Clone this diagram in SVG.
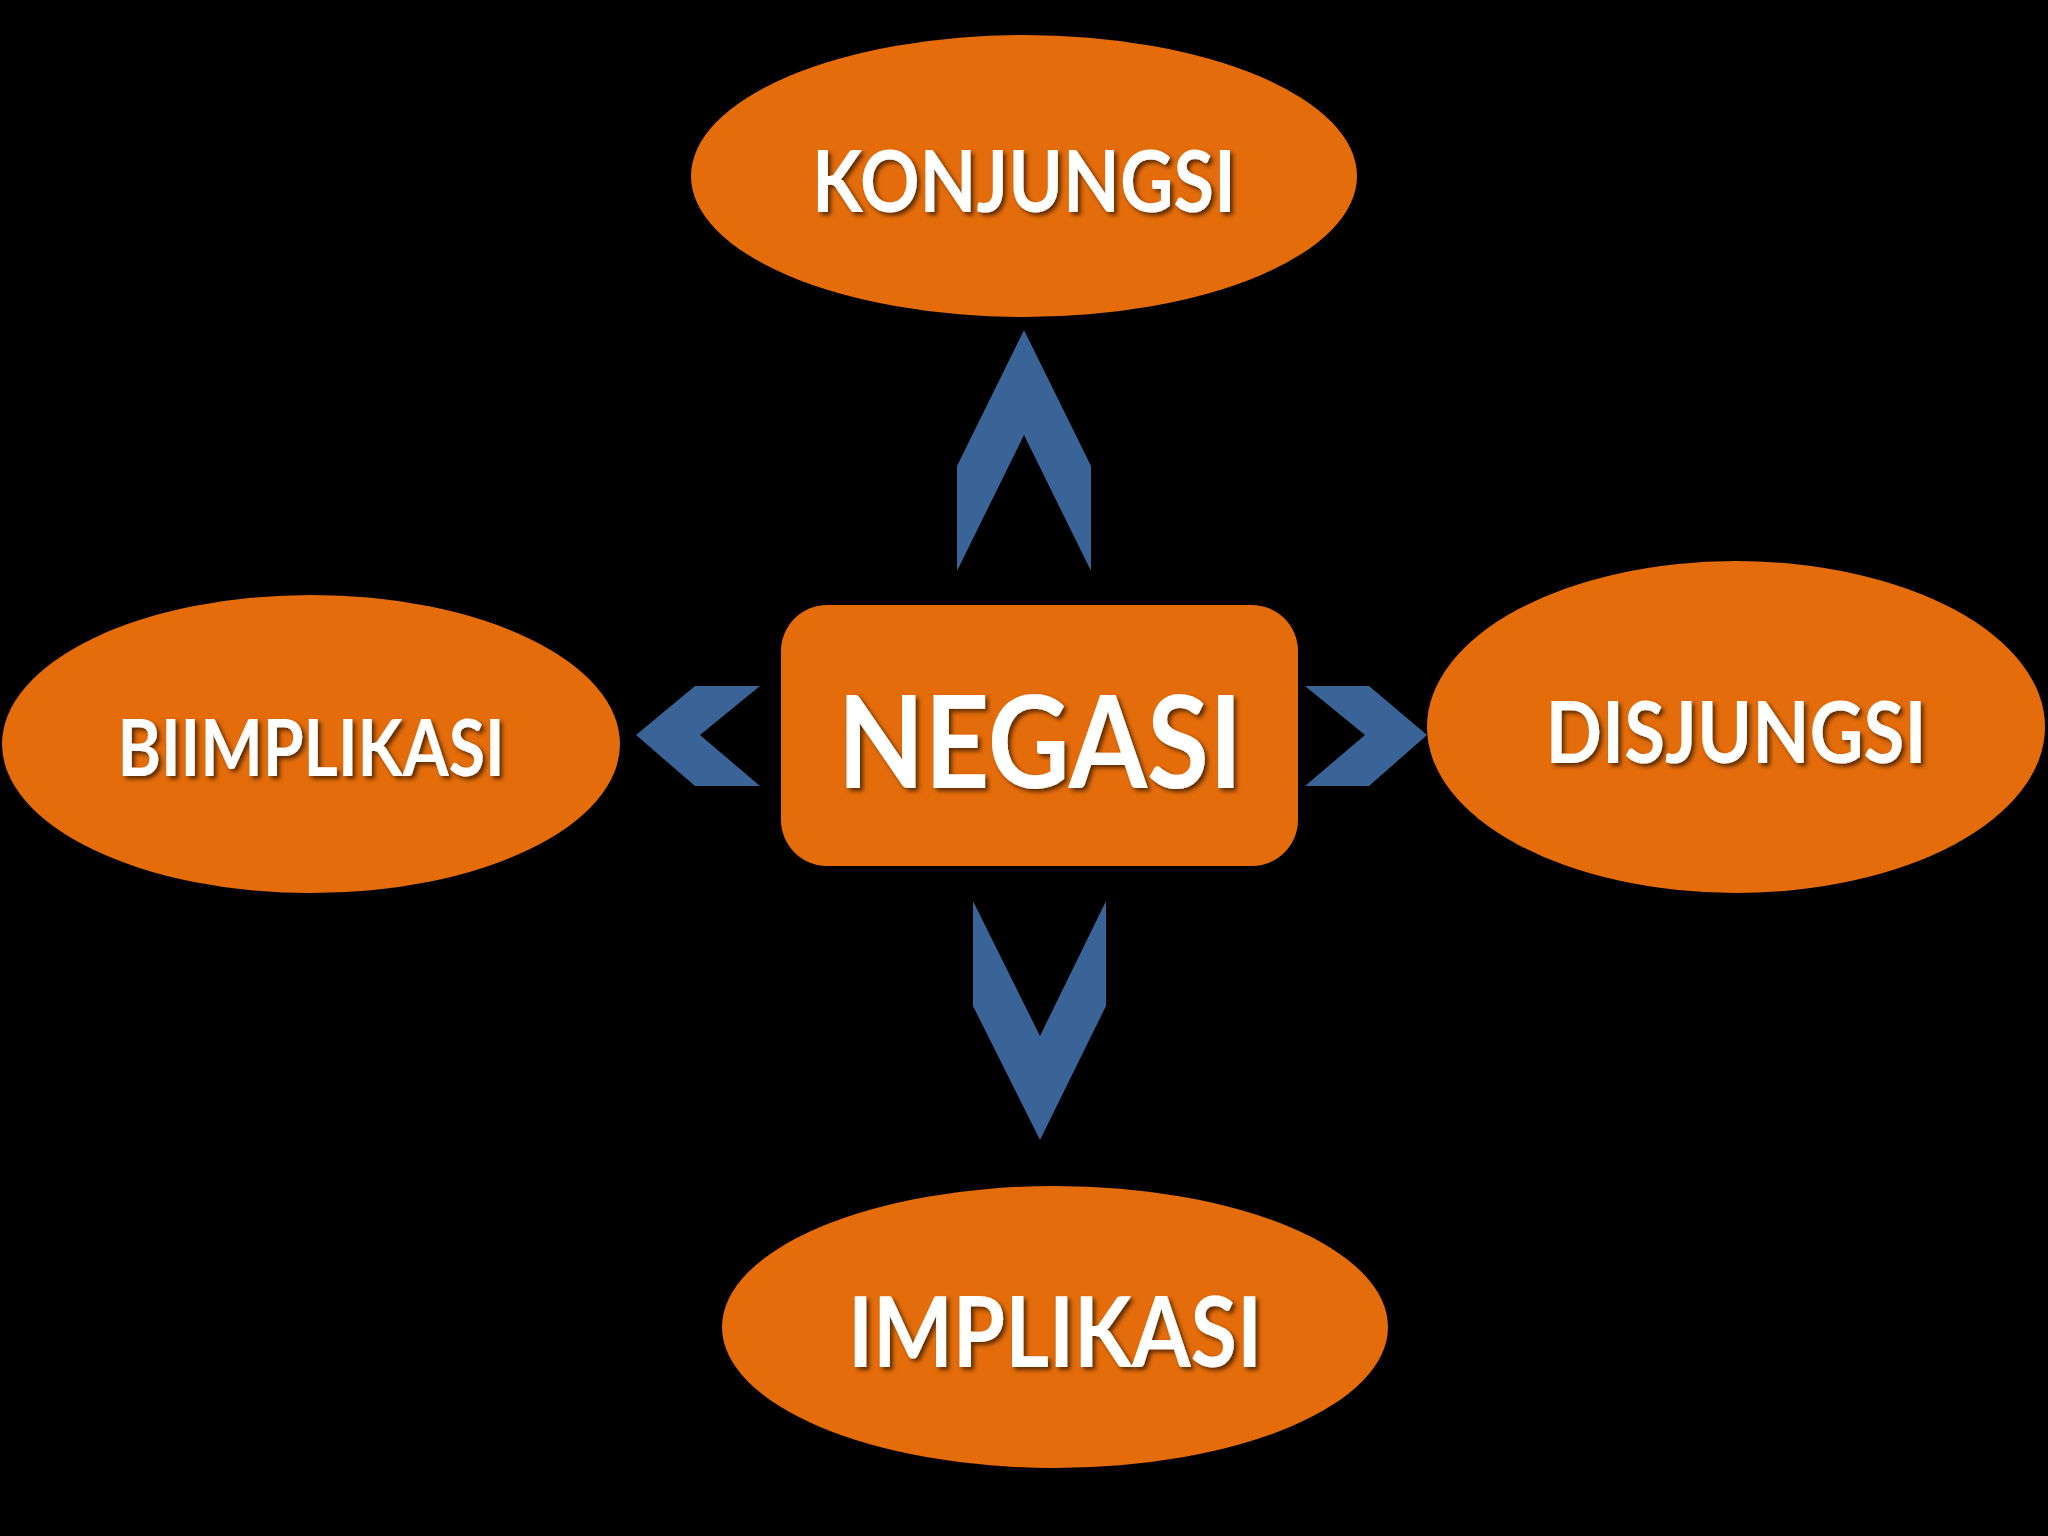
<svg xmlns="http://www.w3.org/2000/svg" width="2048" height="1536" viewBox="0 0 2048 1536">
<defs>
<filter id="sh" x="-10%" y="-20%" width="120%" height="140%"><feDropShadow dx="3" dy="3" stdDeviation="2" flood-color="#000" flood-opacity="0.6"/></filter>
</defs>
<style>
.n{fill:#E46C0A}
.t{fill:#fff;font-family:Lato,"Open Sans",sans-serif;font-weight:bold;text-anchor:middle;dominant-baseline:central;filter:url(#sh)}
.a{fill:#3A6397}
</style>
<rect width="2048" height="1536" fill="#000"/>
<g id="connectors">
<polygon class="a" points="957,571 957,466 1024,330 1091,466 1091,571 1024,435"/>
<polygon class="a" points="973,901 1040,1036 1106,901 1106,1006 1040,1140 973,1006"/>
<polygon class="a" points="760,686 700,735 760,786 695,786 636,735 695,686"/>
<polygon class="a" points="1305,686 1369,686 1427,735 1369,786 1305,786 1365,735"/>
</g>
<g id="konjungsi"><ellipse class="n" cx="1024" cy="176" rx="333" ry="141"/><text class="t" x="1024" y="178" font-size="86" textLength="424" lengthAdjust="spacingAndGlyphs">KONJUNGSI</text></g>
<g id="biimplikasi"><ellipse class="n" cx="311" cy="744" rx="309" ry="149"/><text class="t" x="311" y="746" font-size="78" textLength="387" lengthAdjust="spacingAndGlyphs">BIIMPLIKASI</text></g>
<g id="disjungsi"><ellipse class="n" cx="1736" cy="727" rx="309" ry="166"/><text class="t" x="1736" y="729" font-size="86" textLength="381" lengthAdjust="spacingAndGlyphs">DISJUNGSI</text></g>
<g id="implikasi"><ellipse class="n" cx="1055" cy="1327" rx="333" ry="141"/><text class="t" x="1055" y="1329" font-size="98" textLength="414" lengthAdjust="spacingAndGlyphs">IMPLIKASI</text></g>
<g id="negasi"><rect class="n" x="781" y="605" width="517" height="261" rx="46"/><text class="t" x="1040" y="738" font-size="128" textLength="405" lengthAdjust="spacingAndGlyphs">NEGASI</text></g>
</svg>
